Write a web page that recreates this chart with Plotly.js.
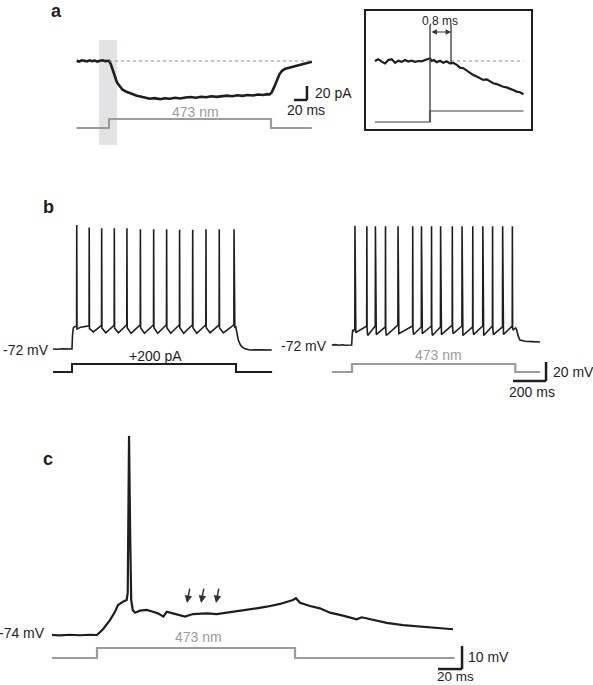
<!DOCTYPE html>
<html>
<head>
<meta charset="utf-8">
<script src="https://cdn.plot.ly/plotly-3.0.1.min.js"></script>
<style>
  html, body { margin: 0; padding: 0; background: #fff; }
  #fig { width: 593px; height: 685px; }
</style>
</head>
<body>
<div id="fig"></div>
<script>
// ---- panel a: photocurrent (ms, pA) ----
const aTime = [-50,-46,-42,-38,-34,-30,-26,-22,-18,-14,-10,-6,-2,0,3,6.6,9,11.9,14,17,21,27,33,43,50,57,63,70,79,86,94,102,110,118,126,134,142,150,158,166,174,182,190,198,206,214,222,230,238,244,248,251,255,259,263,267,272,278,284,290,296,300,305,309,313];
const aCurrent = [0.5,-0.8,1.0,0.2,-0.5,0.9,-0.3,0.6,-1.0,0.4,1.1,-0.2,0.7,0.3,-5,-15,-23,-29.5,-33,-37,-41,-44,-46.5,-49.5,-51,-52.5,-54,-53,-54.5,-53.2,-54,-52.6,-53.5,-52.2,-51.5,-52.5,-51,-51.8,-50.3,-51.2,-50.2,-49.5,-50.4,-49,-49.8,-48.6,-49.3,-47.8,-48.5,-47.4,-47.8,-45,-37,-27,-19,-14,-11,-9.5,-8,-6,-5,-4.2,-2.5,-1.8,-1];
const aLightTime = [-50, 0, 0, 250, 250, 313];
const aLight = [0, 0, 1, 1, 0, 0];

// inset: onset detail (ms, pA)
const insetTime = [-2.10,-1.97,-1.84,-1.71,-1.59,-1.46,-1.33,-1.21,-1.08,-0.95,-0.83,-0.70,-0.57,-0.44,-0.32,-0.19,-0.06,0,0.06,0.15,0.25,0.38,0.51,0.63,0.76,0.89,1.02,1.14,1.27,1.40,1.52,1.65,1.78,1.90,2.03,2.16,2.29,2.41,2.54,2.67,2.79,2.92,3.05,3.17,3.30,3.43,3.56];
const insetCurrent = [0,0.6,-0.2,-0.8,0.3,0.6,-0.6,0.1,-0.3,0.3,-0.2,0.1,-0.3,0,-0.1,0.3,0.6,0.9,0,0.3,-0.4,0.1,-0.6,-0.1,-0.8,-0.6,-1.3,-2.2,-2.4,-3.2,-3.9,-4.7,-5.2,-5.6,-6.3,-6.1,-6.7,-7.4,-7.7,-8.3,-8.6,-8.8,-9.4,-9.7,-10.2,-10.4,-11.1];
const insetLightTime = [-2.1, 0, 0, 3.56];
const insetLight = [0, 0, 1, 1];
const latencyMs = 0.8;

// ---- panel b left: +200 pA current step (ms, mV) ----
const bLeftPreTime = [-116, -90, -60, -30, 0, 3, 8, 15];
const bLeftPreV = [-72, -72.3, -71.8, -72.1, -72, -58, -50, -48.5];
const bLeftSpikeTime = [29, 105, 181, 258, 335, 417, 498, 577, 656, 736, 817, 898, 988];
const bLeftPeak = [58.5, 56, 55, 55, 55, 54, 54, 54, 53.5, 53.5, 54, 54, 54];
const bLeftThreshold = [-48, -47.5, -47, -47, -46.5, -46.5, -46.5, -46.5, -46.5, -46.5, -46.5, -46.5, -46.5];
const bLeftTrough = [-49, -54, -55, -55, -55.5, -55.5, -55.5, -55.5, -55.5, -55.5, -55, -55, -50];
const bLeftPostTime = [998, 1006, 1014, 1025, 1035, 1055, 1085, 1150, 1218];
const bLeftPostV = [-48, -55, -62.5, -67, -69.6, -71.8, -73, -72.8, -73];
const bLeftStepTime = [-116, 0, 0, 1000, 1000, 1220];
const bLeftStep = [0, 0, 200, 200, 0, 0];

// ---- panel b right: 473 nm light (ms, mV) ----
const bRightPreTime = [-122, -100, -80, -60, -40, -20, -2, 1, 4, 10];
const bRightPreV = [-72, -71.6, -72.3, -71.8, -72.2, -71.9, -72, -62, -56, -57];
const bRightSpikeTime = [18, 90, 142, 203, 279, 368, 421, 482, 537, 608, 667, 732, 793, 852, 913, 972];
const bRightPeak = [53.5, 53, 53, 53, 53, 53, 53, 53, 53, 53, 53, 53, 53, 53, 53, 53];
const bRightThreshold = [-55, -52, -52, -53, -51, -52, -53, -52, -53, -51, -52, -53, -52, -52, -53, -52];
const bRightTrough = [-59, -62, -61, -62, -60, -61, -60, -62, -61, -60, -62, -61, -62, -61, -61, -56];
const bRightPostTime = [992, 998, 1008, 1018, 1050, 1090, 1139];
const bRightPostV = [-54, -56, -63, -66.7, -68, -68.4, -68.8];
const bRightLightTime = [-122, 0, 0, 990, 990, 1140];
const bRightLight = [0, 0, 1, 1, 0, 0];

// ---- panel c: single spike + light (ms, mV) ----
const cTime = [-37.5,-30.8,-22.5,-14.2,-5.8,0,5,10.8,15,17.5,21.7,24.7,25.6,26.7,27.7,28.5,29.8,31.7,35.8,41.4,46.7,50.8,55.3,58.1,63.3,73.3,80,91.4,99.8,113.3,127.5,133,141.4,152.5,163.3,165.8,169.2,177.5,185.8,194.2,205,216.4,220.6,230,241.4,255,269.2,283.1,296.7];
const cVoltage = [-74,-74.2,-73.9,-74.1,-73.9,-74,-71.5,-67.5,-63.9,-61,-59.5,-58.8,-55.7,12.5,-32.7,-58.8,-63.1,-64.3,-63.4,-63.1,-63.9,-64.6,-66,-63.9,-64.6,-66,-64.9,-64.6,-64.9,-63.9,-63.1,-62.4,-61.7,-60.5,-58.8,-58,-60,-61.4,-62.4,-64.3,-65.6,-67.2,-66.3,-67.5,-68.7,-69.7,-70.4,-70.8,-71.5];
const cLightTime = [-37.5, 0, 0, 165, 165, 298];
const cLight = [0, 0, 1, 1, 0, 0];
const cArrowTime = [75, 86.7, 99.2];
const cArrowV = [-60.1, -60.1, -60.1];

// ---------------------------------------------------------------
const W = 593, H = 685;
const BLACK = "#1e1e1e";
const LIGHT_GREY = "#9b9b9b";
const FONT = "Liberation Sans, Arial, sans-serif";

function buildSpikeTrain(preT, preV, spikeT, peak, thr, trough, delay, postT, postV) {
  const t = preT.slice(), v = preV.slice();
  spikeT.forEach((ts, i) => {
    const next = i + 1 < spikeT.length ? spikeT[i + 1] : postT[0];
    const d = Math.min(delay, (next - ts) / 2);
    t.push(ts - 1, ts, ts + 1.5, ts + d);
    v.push(thr[i], peak[i], thr[i] - 3, trough[i]);
  });
  return { t: t.concat(postT), v: v.concat(postV) };
}

function xAxis(px0, px1, pxAtZero, pxPerUnit, anchor) {
  return {
    domain: [px0 / W, px1 / W],
    range: [(px0 - pxAtZero) / pxPerUnit, (px1 - pxAtZero) / pxPerUnit],
    visible: false, fixedrange: true, anchor,
  };
}
function yAxis(pyTop, pyBottom, pyAtRef, refValue, pxPerUnit, anchor) {
  return {
    domain: [1 - pyBottom / H, 1 - pyTop / H],
    range: [refValue - (pyBottom - pyAtRef) / pxPerUnit, refValue + (pyAtRef - pyTop) / pxPerUnit],
    visible: false, fixedrange: true, anchor,
  };
}
const px = (x) => x / W;
const py = (y) => 1 - y / H;

function line(x, y, xa, ya, color, width) {
  return { type: "scatter", mode: "lines", x, y, xaxis: xa, yaxis: ya,
    line: { color, width, shape: "linear" }, hoverinfo: "skip" };
}

const bLeft = buildSpikeTrain(bLeftPreTime, bLeftPreV, bLeftSpikeTime, bLeftPeak, bLeftThreshold, bLeftTrough, 25, bLeftPostTime, bLeftPostV);
const bRight = buildSpikeTrain(bRightPreTime, bRightPreV, bRightSpikeTime, bRightPeak, bRightThreshold, bRightTrough, 5, bRightPostTime, bRightPostV);

const traces = [
  line(aTime, aCurrent, "x", "y", BLACK, 2.6),
  line(aLightTime, aLight, "x", "y2", LIGHT_GREY, 2.2),
  line(insetTime, insetCurrent, "x2", "y3", BLACK, 2.2),
  line(insetLightTime, insetLight, "x2", "y4", LIGHT_GREY, 2.2),
  line(bLeft.t, bLeft.v, "x3", "y5", BLACK, 1.6),
  line(bLeftStepTime, bLeftStep, "x3", "y6", BLACK, 2),
  line(bRight.t, bRight.v, "x4", "y7", BLACK, 1.6),
  line(bRightLightTime, bRightLight, "x4", "y8", LIGHT_GREY, 2.2),
  line(cTime, cVoltage, "x5", "y9", BLACK, 2.2),
  line(cLightTime, cLight, "x5", "y10", LIGHT_GREY, 2.2),
];

function label(text, x, y, opts = {}) {
  return Object.assign({
    text, x: px(x), y: py(y), xref: "paper", yref: "paper",
    showarrow: false, xanchor: "center", yanchor: "middle",
    font: { family: FONT, size: 14, color: BLACK },
  }, opts);
}

const annotations = [
  label("<b>a</b>", 57, 11, { font: { family: FONT, size: 18, color: BLACK } }),
  label("<b>b</b>", 49, 207, { font: { family: FONT, size: 18, color: BLACK } }),
  label("<b>c</b>", 48, 459, { font: { family: FONT, size: 18, color: BLACK } }),
  label("20 pA", 313, 93, { xanchor: "left" }),
  label("20 ms", 306, 110),
  label("473 nm", 195, 112, { font: { family: FONT, size: 14, color: LIGHT_GREY } }),
  label("0.8 ms", 440, 21, { font: { family: FONT, size: 12, color: BLACK } }),
  label("-72 mV", 51, 350, { xanchor: "right" }),
  label("+200 pA", 155, 356),
  label("-72 mV", 329, 346, { xanchor: "right" }),
  label("473 nm", 438, 355, { font: { family: FONT, size: 14, color: LIGHT_GREY } }),
  label("20 mV", 551, 372, { xanchor: "left" }),
  label("200 ms", 532, 392),
  label("-74 mV", 47, 633, { xanchor: "right" }),
  label("473 nm", 198, 637, { font: { family: FONT, size: 14, color: LIGHT_GREY } }),
  label("10 mV", 466, 657, { xanchor: "left" }),
  label("20 ms", 456, 676, { font: { family: FONT, size: 13.5, color: BLACK } }),
  // latency double arrow in the inset
  {
    x: latencyMs, y: py(32), xref: "x2", yref: "paper",
    ax: 0, ay: 0, axref: "x2", ayref: "pixel",
    showarrow: true, arrowside: "end+start", arrowhead: 2, arrowsize: 0.9,
    arrowwidth: 1.2, arrowcolor: "#333", text: "",
  },
  // arrows over the post-spike trace in c
  ...cArrowTime.map((t, i) => ({
    x: t, y: cArrowV[i], xref: "x5", yref: "y9",
    ax: 3, ay: -16, showarrow: true, arrowhead: 2, arrowsize: 1,
    arrowwidth: 1.5, arrowcolor: "#333", text: "",
  })),
];

const shapes = [
  // shaded window in a
  { type: "rect", xref: "x", yref: "paper", x0: -15.4, x1: 12.3, y0: py(145), y1: py(40),
    fillcolor: "#e2e3e5", line: { width: 0 }, layer: "below" },
  // baseline dotted lines
  { type: "line", xref: "x", yref: "y", x0: 0, x1: 313, y0: 0, y1: 0,
    line: { color: "#8a8a8a", width: 1, dash: "dot" } },
  { type: "line", xref: "x2", yref: "y3", x0: latencyMs, x1: 3.56, y0: 0, y1: 0,
    line: { color: "#8a8a8a", width: 1, dash: "dot" } },
  // inset frame
  { type: "rect", xref: "paper", yref: "paper", x0: px(365), x1: px(532), y0: py(130), y1: py(10),
    line: { color: BLACK, width: 2 }, fillcolor: "rgba(0,0,0,0)" },
  // latency markers
  { type: "line", xref: "x2", yref: "paper", x0: 0, x1: 0, y0: py(122), y1: py(25),
    line: { color: "#444", width: 1.4 } },
  { type: "line", xref: "x2", yref: "paper", x0: latencyMs, x1: latencyMs, y0: py(62), y1: py(25),
    line: { color: "#444", width: 1.4 } },
  // scale bar a: 20 ms x 20 pA
  { type: "line", xref: "x", yref: "y", x0: 285.5, x1: 305.5, y0: -55.7, y1: -55.7, line: { color: BLACK, width: 2.5 } },
  { type: "line", xref: "x", yref: "y", x0: 305.5, x1: 305.5, y0: -55.7, y1: -35.7, line: { color: BLACK, width: 2.5 } },
  // scale bar b: 200 ms x 20 mV
  { type: "line", xref: "x4", yref: "y7", x0: 976, x1: 1176, y0: -109.9, y1: -109.9, line: { color: BLACK, width: 2.5 } },
  { type: "line", xref: "x4", yref: "y7", x0: 1176, x1: 1176, y0: -109.9, y1: -89.9, line: { color: BLACK, width: 2.5 } },
  // scale bar c: 20 ms x 10 mV
  { type: "line", xref: "x5", yref: "y9", x0: 284.2, x1: 304.2, y0: -88.8, y1: -88.8, line: { color: BLACK, width: 2.5 } },
  { type: "line", xref: "x5", yref: "y9", x0: 304.2, x1: 304.2, y0: -88.8, y1: -78.8, line: { color: BLACK, width: 2.5 } },
];

const layout = {
  width: W, height: H,
  margin: { l: 0, r: 0, t: 0, b: 0 },
  paper_bgcolor: "#fff", plot_bgcolor: "rgba(0,0,0,0)",
  showlegend: false,
  font: { family: FONT },
  // a
  xaxis: xAxis(40, 345, 109, 0.648, "y"),
  yaxis: yAxis(28, 108, 61, 0, 0.7, "x"),
  yaxis2: yAxis(108, 136, 128, 0, 9, "x"),
  // inset
  xaxis2: xAxis(366, 531, 430, 26.25, "y3"),
  yaxis3: yAxis(12, 104, 61, 0, 3, "x2"),
  yaxis4: yAxis(104, 128, 122, 0, 11, "x2"),
  // b left
  xaxis3: xAxis(0, 290, 72, 0.164, "y5"),
  yaxis5: yAxis(212, 360, 349, -72, 0.95, "x3"),
  yaxis6: yAxis(358, 380, 372, 0, 0.04, "x3"),
  // b right
  xaxis4: xAxis(300, 593, 352, 0.165, "y7"),
  yaxis7: yAxis(212, 392, 345, -72, 0.95, "x4"),
  yaxis8: yAxis(358, 380, 372, 0, 8, "x4"),
  // c
  xaxis5: xAxis(30, 485, 97, 1.2, "y9"),
  yaxis9: yAxis(425, 678, 635, -74, 2.3, "x5"),
  yaxis10: yAxis(640, 666, 658, 0, 10, "x5"),
  annotations,
  shapes,
};

Plotly.newPlot("fig", traces, layout, { displayModeBar: false, staticPlot: true });
</script>
</body>
</html>
